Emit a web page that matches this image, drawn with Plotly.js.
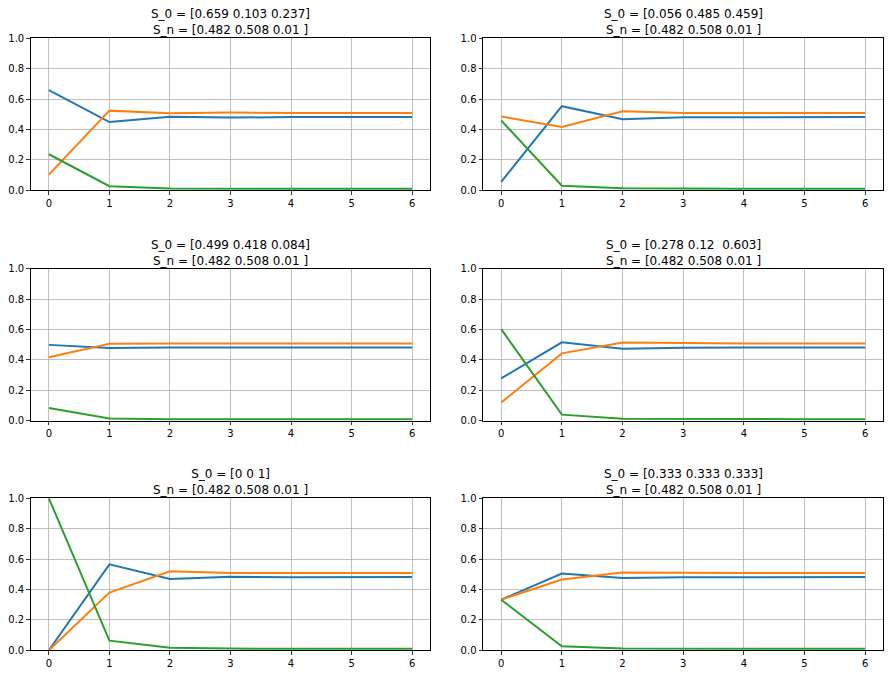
<!DOCTYPE html>
<html>
<head>
<meta charset="utf-8">
<script src="https://cdn.plot.ly/plotly-3.0.1.min.js"></script>
<style>
  body { margin: 0; background: #fff; }
  #chart { width: 890px; height: 674px; }
</style>
</head>
<body>
<div id="chart"></div>
<script>
// steps on the x axis
var steps = [0, 1, 2, 3, 4, 5, 6];

// panel titles (initial state / steady state)
var startLabels = ['[0.659 0.103 0.237]', '[0.056 0.485 0.459]', '[0.499 0.418 0.084]',
                   '[0.278 0.12\u00a0 0.603]', '[0 0 1]', '[0.333 0.333 0.333]'];
var steadyLabel = '[0.482 0.508 0.01 ]';

// one row per panel
var blueSeries = [
  [0.659, 0.449, 0.483, 0.478, 0.482, 0.482, 0.482],
  [0.056, 0.553, 0.467, 0.481, 0.480, 0.482, 0.482],
  [0.499, 0.478, 0.481, 0.482, 0.482, 0.482, 0.482],
  [0.278, 0.516, 0.473, 0.480, 0.481, 0.482, 0.482],
  [0.000, 0.565, 0.469, 0.484, 0.481, 0.482, 0.482],
  [0.333, 0.505, 0.476, 0.481, 0.481, 0.482, 0.482]
];
var orangeSeries = [
  [0.103, 0.524, 0.506, 0.511, 0.508, 0.508, 0.508],
  [0.485, 0.417, 0.520, 0.508, 0.509, 0.508, 0.508],
  [0.418, 0.506, 0.508, 0.508, 0.508, 0.508, 0.508],
  [0.120, 0.443, 0.514, 0.509, 0.508, 0.508, 0.508],
  [0.000, 0.380, 0.520, 0.508, 0.509, 0.508, 0.508],
  [0.333, 0.466, 0.512, 0.509, 0.508, 0.508, 0.508]
];
var greenSeries = [
  [0.237, 0.027, 0.011, 0.010, 0.010, 0.010, 0.010],
  [0.459, 0.030, 0.013, 0.010, 0.010, 0.010, 0.010],
  [0.084, 0.015, 0.010, 0.010, 0.010, 0.010, 0.010],
  [0.603, 0.040, 0.013, 0.011, 0.010, 0.010, 0.010],
  [1.000, 0.063, 0.017, 0.011, 0.010, 0.010, 0.010],
  [0.333, 0.026, 0.012, 0.010, 0.010, 0.010, 0.010]
];

var colors = ['#1f77b4', '#ff7f0e', '#2ca02c'];
var colDomains = [[0.0345, 0.4835], [0.5427, 0.9925]];
var rowDomains = [[0.7177, 0.9432], [0.3758, 0.6013], [0.0352, 0.2607]];

var data = [];
var layout = {
  width: 890,
  height: 674,
  margin: { l: 0, r: 0, t: 0, b: 0 },
  paper_bgcolor: '#fff',
  plot_bgcolor: '#fff',
  showlegend: false,
  font: { family: 'DejaVu Sans', size: 10, color: '#000' },
  annotations: []
};

for (var i = 0; i < 6; i++) {
  var n = i + 1;
  var xa = n === 1 ? 'x' : 'x' + n;
  var ya = n === 1 ? 'y' : 'y' + n;
  var series = [blueSeries[i], orangeSeries[i], greenSeries[i]];
  for (var k = 0; k < 3; k++) {
    data.push({
      x: steps,
      y: series[k],
      xaxis: xa,
      yaxis: ya,
      type: 'scatter',
      mode: 'lines',
      line: { color: colors[k], width: 2 },
      hoverinfo: 'x+y'
    });
  }
  var col = i % 2, row = Math.floor(i / 2);
  layout['xaxis' + (n === 1 ? '' : n)] = {
    domain: colDomains[col],
    anchor: ya,
    range: [-0.3, 6.3],
    tickvals: steps,
    ticks: 'outside', ticklen: 3.5, tickwidth: 0.8, tickcolor: '#000',
    showgrid: true, gridcolor: '#b0b0b0', gridwidth: 0.8,
    zeroline: false,
    showline: true, mirror: true, linecolor: '#000', linewidth: 1,
    tickfont: { size: 10, color: '#000' }
  };
  layout['yaxis' + (n === 1 ? '' : n)] = {
    domain: rowDomains[row],
    anchor: xa,
    range: [0, 1],
    tickvals: [0, 0.2, 0.4, 0.6, 0.8, 1.0],
    tickformat: '.1f',
    ticks: 'outside', ticklen: 3.5, tickwidth: 0.8, tickcolor: '#000',
    showgrid: true, gridcolor: '#b0b0b0', gridwidth: 0.8,
    zeroline: false,
    showline: true, mirror: true, linecolor: '#000', linewidth: 1,
    tickfont: { size: 10, color: '#000' }
  };
  layout.annotations.push({
    text: 'S_0 = ' + startLabels[i] + '<br>S_n = ' + steadyLabel,
    xref: 'paper', yref: 'paper',
    x: (colDomains[col][0] + colDomains[col][1]) / 2,
    y: rowDomains[row][1],
    xanchor: 'center', yanchor: 'bottom',
    yshift: -1,
    showarrow: false,
    align: 'center',
    font: { family: 'DejaVu Sans', size: 12, color: '#000' }
  });
}

Plotly.newPlot('chart', data, layout, { displayModeBar: false, staticPlot: true });
</script>
</body>
</html>
